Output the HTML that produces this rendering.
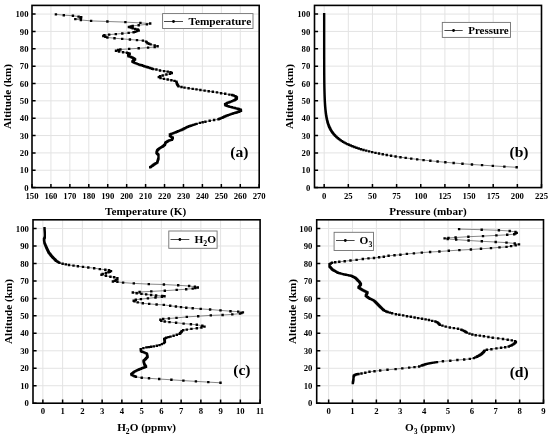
<!DOCTYPE html>
<html><head><meta charset="utf-8"><style>
html,body{margin:0;padding:0;background:#fff;}
svg{display:block;font-family:"Liberation Serif","Times New Roman",serif;}
</style></head><body>
<svg width="550" height="438" viewBox="0 0 550 438">
<rect width="550" height="438" fill="#fff"/>
<path d="M50.93 5.4V187.6M69.87 5.4V187.6M88.8 5.4V187.6M107.73 5.4V187.6M126.67 5.4V187.6M145.6 5.4V187.6M164.53 5.4V187.6M183.47 5.4V187.6M202.4 5.4V187.6M221.33 5.4V187.6M240.27 5.4V187.6M32 170.25H259.2M32 152.9H259.2M32 135.54H259.2M32 118.19H259.2M32 100.84H259.2M32 83.49H259.2M32 66.13H259.2M32 48.78H259.2M32 31.43H259.2M32 14.08H259.2" stroke="#e3e3e3" stroke-width="1" fill="none"/>
<path d="M324.16 5.4V187.6M348.31 5.4V187.6M372.46 5.4V187.6M396.61 5.4V187.6M420.76 5.4V187.6M444.9 5.4V187.6M469.05 5.4V187.6M493.2 5.4V187.6M517.35 5.4V187.6M314.5 170.25H541.5M314.5 152.9H541.5M314.5 135.54H541.5M314.5 118.19H541.5M314.5 100.84H541.5M314.5 83.49H541.5M314.5 66.13H541.5M314.5 48.78H541.5M314.5 31.43H541.5M314.5 14.08H541.5" stroke="#e3e3e3" stroke-width="1" fill="none"/>
<path d="M42.87 219.8V403.2M62.62 219.8V403.2M82.37 219.8V403.2M102.12 219.8V403.2M121.87 219.8V403.2M141.61 219.8V403.2M161.36 219.8V403.2M181.11 219.8V403.2M200.86 219.8V403.2M220.6 219.8V403.2M240.35 219.8V403.2M33 385.73H260.1M33 368.27H260.1M33 350.8H260.1M33 333.33H260.1M33 315.87H260.1M33 298.4H260.1M33 280.93H260.1M33 263.47H260.1M33 246H260.1M33 228.53H260.1" stroke="#e3e3e3" stroke-width="1" fill="none"/>
<path d="M328.64 219.8V403.2M352.51 219.8V403.2M376.38 219.8V403.2M400.26 219.8V403.2M424.13 219.8V403.2M448.01 219.8V403.2M471.88 219.8V403.2M495.75 219.8V403.2M519.63 219.8V403.2M316.7 385.73H543.5M316.7 368.27H543.5M316.7 350.8H543.5M316.7 333.33H543.5M316.7 315.87H543.5M316.7 298.4H543.5M316.7 280.93H543.5M316.7 263.47H543.5M316.7 246H543.5M316.7 228.53H543.5" stroke="#e3e3e3" stroke-width="1" fill="none"/>
<path d="M55.9 14.4 L63.8 15.2 L72.9 15.7 L78.6 16.6 L81.2 17.3 L80.9 17.85 L80.6 18.4 L75.3 19.1 L80.9 20 L91.1 20.9 L107.4 21.5 L125.4 22.1 L140.4 22.9 L150.2 23.5 L146.9 24.4 L138.7 25.2 L132.7 25.9 L130.8 26.45 L128.9 27 L130.8 27.65 L132.7 28.3 L135.15 28.9 L137.6 29.5 L138.15 30.05 L138.7 30.6 L137 31.17 L135.3 31.73 L133.6 32.3 L128.7 32.9 L122.3 33.5 L115.8 34.1 L109.2 34.6 L104.4 35.2 L103.3 36 L105.35 36.75 L107.4 37.5 L114.5 38.2 L122.2 38.9 L129.9 39.5 L137 40.1 L142.9 40.6 L146.1 41.6 L146.85 42.4 L147.6 43.2 L149.1 43.8 L150.6 44.4 L154.7 45.4 L157.6 46.2 L154.7 47 L148.1 47.6 L138.7 48.3 L129.2 48.9 L120.4 49.5 L118.2 50 L116 50.8 L119 51.5 L123.1 52.2 L126.9 52.8 L128.3 53.3 L129.7 53.8 L129.2 54.2 L128.7 54.6 L128.2 55 L128.33 55.4 L128.47 55.8 L128.6 56.2 L129.8 56.6 L131 57 L131.83 57.4 L132.67 57.8 L133.5 58.2 L134.03 58.6 L134.57 59 L135.1 59.4 L134.47 59.8 L133.83 60.2 L133.2 60.6 L132.8 61.1 L132.4 61.6 L133.25 62.1 L134.1 62.6 L135.4 63.1 L136.7 63.6 L137.95 64.1 L139.2 64.6 L140.5 64.95 L141.8 65.3 L143.05 65.75 L144.3 66.2 L145.55 66.6 L146.8 67 L147.8 67.3 L148.8 67.6 L150.05 68 L151.3 68.4 L152.25 68.75 L153.2 69.1 L156.4 69.5 L160 70.5 L164.1 71.1 L167.7 71.6 L170.5 72.3 L171.8 73 L170 73.8 L166.4 74.5 L162.7 75.5 L160 76.2 L158.8 77.1 L160.5 78 L163.9 78.9 L167.7 79.5 L171.4 80.2 L174.5 80.9 L176.4 81.8 L176.6 82.5 L176.8 83.2 L177.05 83.85 L177.3 84.5 L177.7 85.07 L178.1 85.63 L178.5 86.2 L181.5 87 L184.5 87.6 L188.6 88.3 L192.7 88.9 L196.5 89.4 L200.4 90 L204.6 90.6 L208.7 91.2 L212.8 91.8 L217 92.4 L221.1 93.2 L225.2 93.8 L229.4 94.6 L232.2 95 L233.6 95.55 L235 96.1 L235.63 96.57 L236.27 97.03 L236.9 97.5 L236.8 97.93 L236.7 98.37 L236.6 98.8 L235.87 99.27 L235.13 99.73 L234.4 100.2 L233.3 100.67 L232.2 101.13 L231.1 101.6 L229.83 102.03 L228.57 102.47 L227.3 102.9 L226.57 103.37 L225.83 103.83 L225.1 104.3 L225.3 104.67 L225.5 105.03 L225.7 105.4 L226.77 105.77 L227.83 106.13 L228.9 106.5 L230.37 106.87 L231.83 107.23 L233.3 107.6 L234.77 107.97 L236.23 108.33 L237.7 108.7 L238.7 109.07 L239.7 109.43 L240.7 109.8 L240.8 110.17 L240.9 110.53 L241 110.9 L239.9 111.3 L238.8 111.7 L237.7 112.07 L236.6 112.43 L235.5 112.8 L234.23 113.17 L232.97 113.53 L231.7 113.9 L230.43 114.37 L229.17 114.83 L227.9 115.3 L226.93 115.67 L225.97 116.03 L225 116.4 L224.27 116.77 L223.53 117.13 L222.8 117.5 L221.73 117.92 L220.65 118.35 L219.57 118.78 L218.5 119.2 L214.1 120 L209.7 120.8 L205.4 121.7 L202.65 122.3 L199.9 122.9 L196.6 123.9 L195 124.4 L193.4 124.9 L192.03 125.35 L190.65 125.8 L189.28 126.25 L187.9 126.7 L187 127.17 L186.1 127.63 L185.2 128.1 L184.3 128.57 L183.4 129.03 L182.5 129.5 L181.4 129.95 L180.3 130.4 L179.2 130.85 L178.1 131.3 L177 131.75 L175.9 132.2 L174.7 132.66 L173.5 133.12 L172.3 133.58 L171.1 134.04 L169.9 134.5 L169.9 134.97 L169.9 135.43 L169.9 135.9 L170.62 136.38 L171.35 136.85 L172.08 137.33 L172.8 137.8 L172.55 138.28 L172.3 138.75 L172.05 139.22 L171.8 139.7 L170.53 140.13 L169.27 140.57 L168 141 L167.38 141.43 L166.75 141.85 L166.12 142.27 L165.5 142.7 L165.36 143.12 L165.22 143.54 L165.08 143.96 L164.94 144.38 L164.8 144.8 L164.18 145.28 L163.55 145.75 L162.93 146.22 L162.3 146.7 L161.5 147.17 L160.7 147.65 L159.9 148.12 L159.1 148.6 L158.62 149.07 L158.15 149.55 L157.67 150.03 L157.2 150.5 L157.06 150.96 L156.92 151.42 L156.78 151.88 L156.64 152.34 L156.5 152.8 L156.9 153.24 L157.3 153.68 L157.7 154.12 L158.1 154.56 L158.5 155 L158.5 155.46 L158.5 155.91 L158.5 156.37 L158.5 156.83 L158.5 157.29 L158.5 157.74 L158.5 158.2 L158.36 158.69 L158.21 159.18 L158.07 159.67 L157.92 160.16 L157.78 160.64 L157.63 161.13 L157.49 161.62 L157.34 162.11 L157.2 162.6 L156.4 163.07 L155.6 163.55 L154.8 164.03 L154 164.5 L153.37 164.97 L152.73 165.43 L152.1 165.9 L151.47 166.37 L150.83 166.83 L150.2 167.3" fill="none" stroke="#555" stroke-width="0.7"/>
<path fill="#000" d="M54.7 13.2h2.4v2.4h-2.4zM62.6 14h2.4v2.4h-2.4zM71.7 14.5h2.4v2.4h-2.4zM77.4 15.4h2.4v2.4h-2.4zM80 16.1h2.4v2.4h-2.4zM79.7 16.65h2.4v2.4h-2.4zM79.4 17.2h2.4v2.4h-2.4zM74.1 17.9h2.4v2.4h-2.4zM79.7 18.8h2.4v2.4h-2.4zM89.9 19.7h2.4v2.4h-2.4zM106.2 20.3h2.4v2.4h-2.4zM124.2 20.9h2.4v2.4h-2.4zM139.2 21.7h2.4v2.4h-2.4zM149 22.3h2.4v2.4h-2.4zM145.7 23.2h2.4v2.4h-2.4zM137.5 24h2.4v2.4h-2.4zM131.5 24.7h2.4v2.4h-2.4zM129.6 25.25h2.4v2.4h-2.4zM127.7 25.8h2.4v2.4h-2.4zM129.6 26.45h2.4v2.4h-2.4zM131.5 27.1h2.4v2.4h-2.4zM133.95 27.7h2.4v2.4h-2.4zM136.4 28.3h2.4v2.4h-2.4zM136.95 28.85h2.4v2.4h-2.4zM137.5 29.4h2.4v2.4h-2.4zM135.8 29.97h2.4v2.4h-2.4zM134.1 30.53h2.4v2.4h-2.4zM132.4 31.1h2.4v2.4h-2.4zM127.5 31.7h2.4v2.4h-2.4zM121.1 32.3h2.4v2.4h-2.4zM114.6 32.9h2.4v2.4h-2.4zM108 33.4h2.4v2.4h-2.4zM103.2 34h2.4v2.4h-2.4zM102.1 34.8h2.4v2.4h-2.4zM104.15 35.55h2.4v2.4h-2.4zM106.2 36.3h2.4v2.4h-2.4zM113.3 37h2.4v2.4h-2.4zM121 37.7h2.4v2.4h-2.4zM128.7 38.3h2.4v2.4h-2.4zM135.8 38.9h2.4v2.4h-2.4zM141.7 39.4h2.4v2.4h-2.4zM144.9 40.4h2.4v2.4h-2.4zM145.65 41.2h2.4v2.4h-2.4zM146.4 42h2.4v2.4h-2.4zM147.9 42.6h2.4v2.4h-2.4zM149.4 43.2h2.4v2.4h-2.4zM153.5 44.2h2.4v2.4h-2.4zM156.4 45h2.4v2.4h-2.4zM153.5 45.8h2.4v2.4h-2.4zM146.9 46.4h2.4v2.4h-2.4zM137.5 47.1h2.4v2.4h-2.4zM128 47.7h2.4v2.4h-2.4zM119.2 48.3h2.4v2.4h-2.4zM117 48.8h2.4v2.4h-2.4zM114.8 49.6h2.4v2.4h-2.4zM117.8 50.3h2.4v2.4h-2.4zM121.9 51h2.4v2.4h-2.4zM125.7 51.6h2.4v2.4h-2.4zM127.1 52.1h2.4v2.4h-2.4zM128.5 52.6h2.4v2.4h-2.4zM128 53h2.4v2.4h-2.4zM127.5 53.4h2.4v2.4h-2.4zM127 53.8h2.4v2.4h-2.4zM127.13 54.2h2.4v2.4h-2.4zM127.27 54.6h2.4v2.4h-2.4zM127.4 55h2.4v2.4h-2.4zM128.6 55.4h2.4v2.4h-2.4zM129.8 55.8h2.4v2.4h-2.4zM130.63 56.2h2.4v2.4h-2.4zM131.47 56.6h2.4v2.4h-2.4zM132.3 57h2.4v2.4h-2.4zM132.83 57.4h2.4v2.4h-2.4zM133.37 57.8h2.4v2.4h-2.4zM133.9 58.2h2.4v2.4h-2.4zM133.27 58.6h2.4v2.4h-2.4zM132.63 59h2.4v2.4h-2.4zM132 59.4h2.4v2.4h-2.4zM131.6 59.9h2.4v2.4h-2.4zM131.2 60.4h2.4v2.4h-2.4zM132.05 60.9h2.4v2.4h-2.4zM132.9 61.4h2.4v2.4h-2.4zM134.2 61.9h2.4v2.4h-2.4zM135.5 62.4h2.4v2.4h-2.4zM136.75 62.9h2.4v2.4h-2.4zM138 63.4h2.4v2.4h-2.4zM139.3 63.75h2.4v2.4h-2.4zM140.6 64.1h2.4v2.4h-2.4zM141.85 64.55h2.4v2.4h-2.4zM143.1 65h2.4v2.4h-2.4zM144.35 65.4h2.4v2.4h-2.4zM145.6 65.8h2.4v2.4h-2.4zM146.6 66.1h2.4v2.4h-2.4zM147.6 66.4h2.4v2.4h-2.4zM148.85 66.8h2.4v2.4h-2.4zM150.1 67.2h2.4v2.4h-2.4zM151.05 67.55h2.4v2.4h-2.4zM152 67.9h2.4v2.4h-2.4zM155.2 68.3h2.4v2.4h-2.4zM158.8 69.3h2.4v2.4h-2.4zM162.9 69.9h2.4v2.4h-2.4zM166.5 70.4h2.4v2.4h-2.4zM169.3 71.1h2.4v2.4h-2.4zM170.6 71.8h2.4v2.4h-2.4zM168.8 72.6h2.4v2.4h-2.4zM165.2 73.3h2.4v2.4h-2.4zM161.5 74.3h2.4v2.4h-2.4zM158.8 75h2.4v2.4h-2.4zM157.6 75.9h2.4v2.4h-2.4zM159.3 76.8h2.4v2.4h-2.4zM162.7 77.7h2.4v2.4h-2.4zM166.5 78.3h2.4v2.4h-2.4zM170.2 79h2.4v2.4h-2.4zM173.3 79.7h2.4v2.4h-2.4zM175.2 80.6h2.4v2.4h-2.4zM175.4 81.3h2.4v2.4h-2.4zM175.6 82h2.4v2.4h-2.4zM175.85 82.65h2.4v2.4h-2.4zM176.1 83.3h2.4v2.4h-2.4zM176.5 83.87h2.4v2.4h-2.4zM176.9 84.43h2.4v2.4h-2.4zM177.3 85h2.4v2.4h-2.4zM180.3 85.8h2.4v2.4h-2.4zM183.3 86.4h2.4v2.4h-2.4zM187.4 87.1h2.4v2.4h-2.4zM191.5 87.7h2.4v2.4h-2.4zM195.3 88.2h2.4v2.4h-2.4zM199.2 88.8h2.4v2.4h-2.4zM203.4 89.4h2.4v2.4h-2.4zM207.5 90h2.4v2.4h-2.4zM211.6 90.6h2.4v2.4h-2.4zM215.8 91.2h2.4v2.4h-2.4zM219.9 92h2.4v2.4h-2.4zM224 92.6h2.4v2.4h-2.4zM228.2 93.4h2.4v2.4h-2.4zM231 93.8h2.4v2.4h-2.4zM232.4 94.35h2.4v2.4h-2.4zM233.8 94.9h2.4v2.4h-2.4zM234.43 95.37h2.4v2.4h-2.4zM235.07 95.83h2.4v2.4h-2.4zM235.7 96.3h2.4v2.4h-2.4zM235.6 96.73h2.4v2.4h-2.4zM235.5 97.17h2.4v2.4h-2.4zM235.4 97.6h2.4v2.4h-2.4zM234.67 98.07h2.4v2.4h-2.4zM233.93 98.53h2.4v2.4h-2.4zM233.2 99h2.4v2.4h-2.4zM232.1 99.47h2.4v2.4h-2.4zM231 99.93h2.4v2.4h-2.4zM229.9 100.4h2.4v2.4h-2.4zM228.63 100.83h2.4v2.4h-2.4zM227.37 101.27h2.4v2.4h-2.4zM226.1 101.7h2.4v2.4h-2.4zM225.37 102.17h2.4v2.4h-2.4zM224.63 102.63h2.4v2.4h-2.4zM223.9 103.1h2.4v2.4h-2.4zM224.1 103.47h2.4v2.4h-2.4zM224.3 103.83h2.4v2.4h-2.4zM224.5 104.2h2.4v2.4h-2.4zM225.57 104.57h2.4v2.4h-2.4zM226.63 104.93h2.4v2.4h-2.4zM227.7 105.3h2.4v2.4h-2.4zM229.17 105.67h2.4v2.4h-2.4zM230.63 106.03h2.4v2.4h-2.4zM232.1 106.4h2.4v2.4h-2.4zM233.57 106.77h2.4v2.4h-2.4zM235.03 107.13h2.4v2.4h-2.4zM236.5 107.5h2.4v2.4h-2.4zM237.5 107.87h2.4v2.4h-2.4zM238.5 108.23h2.4v2.4h-2.4zM239.5 108.6h2.4v2.4h-2.4zM239.6 108.97h2.4v2.4h-2.4zM239.7 109.33h2.4v2.4h-2.4zM239.8 109.7h2.4v2.4h-2.4zM238.7 110.1h2.4v2.4h-2.4zM237.6 110.5h2.4v2.4h-2.4zM236.5 110.87h2.4v2.4h-2.4zM235.4 111.23h2.4v2.4h-2.4zM234.3 111.6h2.4v2.4h-2.4zM233.03 111.97h2.4v2.4h-2.4zM231.77 112.33h2.4v2.4h-2.4zM230.5 112.7h2.4v2.4h-2.4zM229.23 113.17h2.4v2.4h-2.4zM227.97 113.63h2.4v2.4h-2.4zM226.7 114.1h2.4v2.4h-2.4zM225.73 114.47h2.4v2.4h-2.4zM224.77 114.83h2.4v2.4h-2.4zM223.8 115.2h2.4v2.4h-2.4zM223.07 115.57h2.4v2.4h-2.4zM222.33 115.93h2.4v2.4h-2.4zM221.6 116.3h2.4v2.4h-2.4zM220.53 116.72h2.4v2.4h-2.4zM219.45 117.15h2.4v2.4h-2.4zM218.38 117.58h2.4v2.4h-2.4zM217.3 118h2.4v2.4h-2.4zM212.9 118.8h2.4v2.4h-2.4zM208.5 119.6h2.4v2.4h-2.4zM204.2 120.5h2.4v2.4h-2.4zM201.45 121.1h2.4v2.4h-2.4zM198.7 121.7h2.4v2.4h-2.4zM195.4 122.7h2.4v2.4h-2.4zM193.8 123.2h2.4v2.4h-2.4zM192.2 123.7h2.4v2.4h-2.4zM190.83 124.15h2.4v2.4h-2.4zM189.45 124.6h2.4v2.4h-2.4zM188.08 125.05h2.4v2.4h-2.4zM186.7 125.5h2.4v2.4h-2.4zM185.8 125.97h2.4v2.4h-2.4zM184.9 126.43h2.4v2.4h-2.4zM184 126.9h2.4v2.4h-2.4zM183.1 127.37h2.4v2.4h-2.4zM182.2 127.83h2.4v2.4h-2.4zM181.3 128.3h2.4v2.4h-2.4zM180.2 128.75h2.4v2.4h-2.4zM179.1 129.2h2.4v2.4h-2.4zM178 129.65h2.4v2.4h-2.4zM176.9 130.1h2.4v2.4h-2.4zM175.8 130.55h2.4v2.4h-2.4zM174.7 131h2.4v2.4h-2.4zM173.5 131.46h2.4v2.4h-2.4zM172.3 131.92h2.4v2.4h-2.4zM171.1 132.38h2.4v2.4h-2.4zM169.9 132.84h2.4v2.4h-2.4zM168.7 133.3h2.4v2.4h-2.4zM168.7 133.77h2.4v2.4h-2.4zM168.7 134.23h2.4v2.4h-2.4zM168.7 134.7h2.4v2.4h-2.4zM169.43 135.18h2.4v2.4h-2.4zM170.15 135.65h2.4v2.4h-2.4zM170.88 136.13h2.4v2.4h-2.4zM171.6 136.6h2.4v2.4h-2.4zM171.35 137.08h2.4v2.4h-2.4zM171.1 137.55h2.4v2.4h-2.4zM170.85 138.03h2.4v2.4h-2.4zM170.6 138.5h2.4v2.4h-2.4zM169.33 138.93h2.4v2.4h-2.4zM168.07 139.37h2.4v2.4h-2.4zM166.8 139.8h2.4v2.4h-2.4zM166.18 140.23h2.4v2.4h-2.4zM165.55 140.65h2.4v2.4h-2.4zM164.93 141.07h2.4v2.4h-2.4zM164.3 141.5h2.4v2.4h-2.4zM164.16 141.92h2.4v2.4h-2.4zM164.02 142.34h2.4v2.4h-2.4zM163.88 142.76h2.4v2.4h-2.4zM163.74 143.18h2.4v2.4h-2.4zM163.6 143.6h2.4v2.4h-2.4zM162.98 144.08h2.4v2.4h-2.4zM162.35 144.55h2.4v2.4h-2.4zM161.73 145.03h2.4v2.4h-2.4zM161.1 145.5h2.4v2.4h-2.4zM160.3 145.97h2.4v2.4h-2.4zM159.5 146.45h2.4v2.4h-2.4zM158.7 146.93h2.4v2.4h-2.4zM157.9 147.4h2.4v2.4h-2.4zM157.43 147.88h2.4v2.4h-2.4zM156.95 148.35h2.4v2.4h-2.4zM156.47 148.83h2.4v2.4h-2.4zM156 149.3h2.4v2.4h-2.4zM155.86 149.76h2.4v2.4h-2.4zM155.72 150.22h2.4v2.4h-2.4zM155.58 150.68h2.4v2.4h-2.4zM155.44 151.14h2.4v2.4h-2.4zM155.3 151.6h2.4v2.4h-2.4zM155.7 152.04h2.4v2.4h-2.4zM156.1 152.48h2.4v2.4h-2.4zM156.5 152.92h2.4v2.4h-2.4zM156.9 153.36h2.4v2.4h-2.4zM157.3 153.8h2.4v2.4h-2.4zM157.3 154.26h2.4v2.4h-2.4zM157.3 154.71h2.4v2.4h-2.4zM157.3 155.17h2.4v2.4h-2.4zM157.3 155.63h2.4v2.4h-2.4zM157.3 156.09h2.4v2.4h-2.4zM157.3 156.54h2.4v2.4h-2.4zM157.3 157h2.4v2.4h-2.4zM157.16 157.49h2.4v2.4h-2.4zM157.01 157.98h2.4v2.4h-2.4zM156.87 158.47h2.4v2.4h-2.4zM156.72 158.96h2.4v2.4h-2.4zM156.58 159.44h2.4v2.4h-2.4zM156.43 159.93h2.4v2.4h-2.4zM156.29 160.42h2.4v2.4h-2.4zM156.14 160.91h2.4v2.4h-2.4zM156 161.4h2.4v2.4h-2.4zM155.2 161.88h2.4v2.4h-2.4zM154.4 162.35h2.4v2.4h-2.4zM153.6 162.83h2.4v2.4h-2.4zM152.8 163.3h2.4v2.4h-2.4zM152.17 163.77h2.4v2.4h-2.4zM151.53 164.23h2.4v2.4h-2.4zM150.9 164.7h2.4v2.4h-2.4zM150.27 165.17h2.4v2.4h-2.4zM149.63 165.63h2.4v2.4h-2.4zM149 166.1h2.4v2.4h-2.4z"/>
<path d="M516.67 167.3 L504.36 166.59 L492.83 165.87 L482.05 165.16 L471.95 164.44 L462.49 163.72 L453.65 163 L445.36 162.27 L437.61 161.55 L430.35 160.82 L423.56 160.1 L417.2 159.37 L411.25 158.65 L405.68 157.92 L400.47 157.19 L395.59 156.46 L391.02 155.74 L386.74 155.01 L382.74 154.28 L378.99 153.56 L375.48 152.83 L372.2 152.11 L369.13 151.39 L366.25 150.66 L363.56 149.94 L361.04 149.21 L358.68 148.48 L356.47 147.76 L354.41 147.02 L352.47 146.29 L350.66 145.56 L348.97 144.82 L347.38 144.08 L345.89 143.34 L344.5 142.6 L343.2 141.86 L341.98 141.12 L340.84 140.38 L339.78 139.63 L338.78 138.88 L337.84 138.13 L336.97 137.38 L336.15 136.63 L335.38 135.88 L334.66 135.13 L333.99 134.38 L333.36 133.63 L332.77 132.88 L332.22 132.13 L331.71 131.37 L331.22 130.61 L330.77 129.84 L330.35 129.07 L329.95 128.3 L329.58 127.53 L329.24 126.75 L328.91 125.97 L328.61 125.19 L328.32 124.4 L328.06 123.61 L327.81 122.81 L327.57 122.01 L327.36 121.2 L327.15 120.39 L326.96 119.57 L326.78 118.74 L326.61 117.9 L326.46 117.06 L326.31 116.22 L326.17 115.37 L326.04 114.52 L325.92 113.67 L325.81 112.81 L325.7 111.94 L325.61 111.08 L325.51 110.2 L325.43 109.33 L325.35 108.46 L325.27 107.6 L325.2 106.74 L325.13 105.88 L325.07 105.04 L325.01 104.19 L324.96 103.35 L324.91 102.5 L324.86 101.65 L324.81 100.79 L324.77 99.93 L324.73 99.07 L324.7 98.2 L324.66 97.34 L324.63 96.47 L324.6 95.61 L324.57 94.75 L324.55 93.9 L324.52 93.05 L324.5 92.22 L324.48 91.39 L324.46 90.57 L324.44 89.77 L324.42 88.97 L324.4 88.18 L324.39 87.41 L324.37 86.64 L324.36 85.87 L324.35 85.11 L324.33 84.35 L324.32 83.59 L324.31 82.83 L324.3 82.07 L324.29 81.31 L324.28 80.55 L324.28 79.8 L324.27 79.06 L324.26 78.32 L324.26 77.59 L324.25 76.86 L324.24 76.13 L324.24 75.4 L324.23 74.66 L324.23 73.92 L324.22 73.18 L324.22 72.43 L324.22 71.68 L324.21 70.94 L324.21 70.2 L324.21 69.48 L324.2 68.76 L324.2 68.04 L324.2 67.33 L324.2 66.62 L324.19 65.92 L324.19 65.22 L324.19 64.52 L324.19 63.83 L324.19 63.14 L324.18 62.46 L324.18 61.78 L324.18 61.09 L324.18 60.41 L324.18 59.73 L324.18 59.04 L324.18 58.36 L324.17 57.68 L324.17 57 L324.17 56.32 L324.17 55.65 L324.17 54.97 L324.17 54.3 L324.17 53.62 L324.17 52.95 L324.17 52.28 L324.17 51.62 L324.17 50.96 L324.17 50.31 L324.17 49.65 L324.17 48.99 L324.17 48.31 L324.17 47.61 L324.16 46.9 L324.16 46.18 L324.16 45.46 L324.16 44.74 L324.16 44.02 L324.16 43.31 L324.16 42.61 L324.16 41.9 L324.16 41.19 L324.16 40.49 L324.16 39.8 L324.16 39.12 L324.16 38.46 L324.16 37.81 L324.16 37.17 L324.16 36.54 L324.16 35.91 L324.16 35.28 L324.16 34.64 L324.16 34 L324.16 33.34 L324.16 32.67 L324.16 31.99 L324.16 31.3 L324.16 30.61 L324.16 29.92 L324.16 29.23 L324.16 28.55 L324.16 27.87 L324.16 27.19 L324.16 26.51 L324.16 25.83 L324.16 25.15 L324.16 24.45 L324.16 23.74 L324.16 23.03 L324.16 22.34 L324.16 21.67 L324.16 21.04 L324.16 20.44 L324.16 19.84 L324.16 19.26 L324.16 18.68 L324.16 18.09 L324.16 17.5 L324.16 16.91 L324.16 16.32 L324.16 15.74 L324.16 15.18 L324.16 14.62 L324.16 14.08" fill="none" stroke="#555" stroke-width="0.7"/>
<path fill="#000" d="M515.47 166.1h2.4v2.4h-2.4zM503.16 165.39h2.4v2.4h-2.4zM491.63 164.67h2.4v2.4h-2.4zM480.85 163.96h2.4v2.4h-2.4zM470.75 163.24h2.4v2.4h-2.4zM461.29 162.52h2.4v2.4h-2.4zM452.45 161.8h2.4v2.4h-2.4zM444.16 161.07h2.4v2.4h-2.4zM436.41 160.35h2.4v2.4h-2.4zM429.15 159.62h2.4v2.4h-2.4zM422.36 158.9h2.4v2.4h-2.4zM416 158.17h2.4v2.4h-2.4zM410.05 157.45h2.4v2.4h-2.4zM404.48 156.72h2.4v2.4h-2.4zM399.27 155.99h2.4v2.4h-2.4zM394.39 155.26h2.4v2.4h-2.4zM389.82 154.54h2.4v2.4h-2.4zM385.54 153.81h2.4v2.4h-2.4zM381.54 153.08h2.4v2.4h-2.4zM377.79 152.36h2.4v2.4h-2.4zM374.28 151.63h2.4v2.4h-2.4zM371 150.91h2.4v2.4h-2.4zM367.93 150.19h2.4v2.4h-2.4zM365.05 149.46h2.4v2.4h-2.4zM362.36 148.74h2.4v2.4h-2.4zM359.84 148.01h2.4v2.4h-2.4zM357.48 147.28h2.4v2.4h-2.4zM355.27 146.56h2.4v2.4h-2.4zM353.21 145.82h2.4v2.4h-2.4zM351.27 145.09h2.4v2.4h-2.4zM349.46 144.36h2.4v2.4h-2.4zM347.77 143.62h2.4v2.4h-2.4zM346.18 142.88h2.4v2.4h-2.4zM344.69 142.14h2.4v2.4h-2.4zM343.3 141.4h2.4v2.4h-2.4zM342 140.66h2.4v2.4h-2.4zM340.78 139.92h2.4v2.4h-2.4zM339.64 139.18h2.4v2.4h-2.4zM338.58 138.43h2.4v2.4h-2.4zM337.58 137.68h2.4v2.4h-2.4zM336.64 136.93h2.4v2.4h-2.4zM335.77 136.18h2.4v2.4h-2.4zM334.95 135.43h2.4v2.4h-2.4zM334.18 134.68h2.4v2.4h-2.4zM333.46 133.93h2.4v2.4h-2.4zM332.79 133.18h2.4v2.4h-2.4zM332.16 132.43h2.4v2.4h-2.4zM331.57 131.68h2.4v2.4h-2.4zM331.02 130.93h2.4v2.4h-2.4zM330.51 130.17h2.4v2.4h-2.4zM330.02 129.41h2.4v2.4h-2.4zM329.57 128.64h2.4v2.4h-2.4zM329.15 127.87h2.4v2.4h-2.4zM328.75 127.1h2.4v2.4h-2.4zM328.38 126.33h2.4v2.4h-2.4zM328.04 125.55h2.4v2.4h-2.4zM327.71 124.77h2.4v2.4h-2.4zM327.41 123.99h2.4v2.4h-2.4zM327.12 123.2h2.4v2.4h-2.4zM326.86 122.41h2.4v2.4h-2.4zM326.61 121.61h2.4v2.4h-2.4zM326.37 120.81h2.4v2.4h-2.4zM326.16 120h2.4v2.4h-2.4zM325.95 119.19h2.4v2.4h-2.4zM325.76 118.37h2.4v2.4h-2.4zM325.58 117.54h2.4v2.4h-2.4zM325.41 116.7h2.4v2.4h-2.4zM325.26 115.86h2.4v2.4h-2.4zM325.11 115.02h2.4v2.4h-2.4zM324.97 114.17h2.4v2.4h-2.4zM324.84 113.32h2.4v2.4h-2.4zM324.72 112.47h2.4v2.4h-2.4zM324.61 111.61h2.4v2.4h-2.4zM324.5 110.74h2.4v2.4h-2.4zM324.41 109.88h2.4v2.4h-2.4zM324.31 109h2.4v2.4h-2.4zM324.23 108.13h2.4v2.4h-2.4zM324.15 107.26h2.4v2.4h-2.4zM324.07 106.4h2.4v2.4h-2.4zM324 105.54h2.4v2.4h-2.4zM323.93 104.68h2.4v2.4h-2.4zM323.87 103.84h2.4v2.4h-2.4zM323.81 102.99h2.4v2.4h-2.4zM323.76 102.15h2.4v2.4h-2.4zM323.71 101.3h2.4v2.4h-2.4zM323.66 100.45h2.4v2.4h-2.4zM323.61 99.59h2.4v2.4h-2.4zM323.57 98.73h2.4v2.4h-2.4zM323.53 97.87h2.4v2.4h-2.4zM323.5 97h2.4v2.4h-2.4zM323.46 96.14h2.4v2.4h-2.4zM323.43 95.27h2.4v2.4h-2.4zM323.4 94.41h2.4v2.4h-2.4zM323.37 93.55h2.4v2.4h-2.4zM323.35 92.7h2.4v2.4h-2.4zM323.32 91.85h2.4v2.4h-2.4zM323.3 91.02h2.4v2.4h-2.4zM323.28 90.19h2.4v2.4h-2.4zM323.26 89.37h2.4v2.4h-2.4zM323.24 88.57h2.4v2.4h-2.4zM323.22 87.77h2.4v2.4h-2.4zM323.2 86.98h2.4v2.4h-2.4zM323.19 86.21h2.4v2.4h-2.4zM323.17 85.44h2.4v2.4h-2.4zM323.16 84.67h2.4v2.4h-2.4zM323.15 83.91h2.4v2.4h-2.4zM323.13 83.15h2.4v2.4h-2.4zM323.12 82.39h2.4v2.4h-2.4zM323.11 81.63h2.4v2.4h-2.4zM323.1 80.87h2.4v2.4h-2.4zM323.09 80.11h2.4v2.4h-2.4zM323.08 79.35h2.4v2.4h-2.4zM323.08 78.6h2.4v2.4h-2.4zM323.07 77.86h2.4v2.4h-2.4zM323.06 77.12h2.4v2.4h-2.4zM323.06 76.39h2.4v2.4h-2.4zM323.05 75.66h2.4v2.4h-2.4zM323.04 74.93h2.4v2.4h-2.4zM323.04 74.2h2.4v2.4h-2.4zM323.03 73.46h2.4v2.4h-2.4zM323.03 72.72h2.4v2.4h-2.4zM323.02 71.98h2.4v2.4h-2.4zM323.02 71.23h2.4v2.4h-2.4zM323.02 70.48h2.4v2.4h-2.4zM323.01 69.74h2.4v2.4h-2.4zM323.01 69h2.4v2.4h-2.4zM323.01 68.28h2.4v2.4h-2.4zM323 67.56h2.4v2.4h-2.4zM323 66.84h2.4v2.4h-2.4zM323 66.13h2.4v2.4h-2.4zM323 65.42h2.4v2.4h-2.4zM322.99 64.72h2.4v2.4h-2.4zM322.99 64.02h2.4v2.4h-2.4zM322.99 63.32h2.4v2.4h-2.4zM322.99 62.63h2.4v2.4h-2.4zM322.99 61.94h2.4v2.4h-2.4zM322.98 61.26h2.4v2.4h-2.4zM322.98 60.58h2.4v2.4h-2.4zM322.98 59.89h2.4v2.4h-2.4zM322.98 59.21h2.4v2.4h-2.4zM322.98 58.53h2.4v2.4h-2.4zM322.98 57.84h2.4v2.4h-2.4zM322.98 57.16h2.4v2.4h-2.4zM322.97 56.48h2.4v2.4h-2.4zM322.97 55.8h2.4v2.4h-2.4zM322.97 55.12h2.4v2.4h-2.4zM322.97 54.45h2.4v2.4h-2.4zM322.97 53.77h2.4v2.4h-2.4zM322.97 53.1h2.4v2.4h-2.4zM322.97 52.42h2.4v2.4h-2.4zM322.97 51.75h2.4v2.4h-2.4zM322.97 51.08h2.4v2.4h-2.4zM322.97 50.42h2.4v2.4h-2.4zM322.97 49.76h2.4v2.4h-2.4zM322.97 49.11h2.4v2.4h-2.4zM322.97 48.45h2.4v2.4h-2.4zM322.97 47.79h2.4v2.4h-2.4zM322.97 47.11h2.4v2.4h-2.4zM322.97 46.41h2.4v2.4h-2.4zM322.96 45.7h2.4v2.4h-2.4zM322.96 44.98h2.4v2.4h-2.4zM322.96 44.26h2.4v2.4h-2.4zM322.96 43.54h2.4v2.4h-2.4zM322.96 42.82h2.4v2.4h-2.4zM322.96 42.11h2.4v2.4h-2.4zM322.96 41.41h2.4v2.4h-2.4zM322.96 40.7h2.4v2.4h-2.4zM322.96 39.99h2.4v2.4h-2.4zM322.96 39.29h2.4v2.4h-2.4zM322.96 38.6h2.4v2.4h-2.4zM322.96 37.92h2.4v2.4h-2.4zM322.96 37.26h2.4v2.4h-2.4zM322.96 36.61h2.4v2.4h-2.4zM322.96 35.97h2.4v2.4h-2.4zM322.96 35.34h2.4v2.4h-2.4zM322.96 34.71h2.4v2.4h-2.4zM322.96 34.08h2.4v2.4h-2.4zM322.96 33.44h2.4v2.4h-2.4zM322.96 32.8h2.4v2.4h-2.4zM322.96 32.14h2.4v2.4h-2.4zM322.96 31.47h2.4v2.4h-2.4zM322.96 30.79h2.4v2.4h-2.4zM322.96 30.1h2.4v2.4h-2.4zM322.96 29.41h2.4v2.4h-2.4zM322.96 28.72h2.4v2.4h-2.4zM322.96 28.03h2.4v2.4h-2.4zM322.96 27.35h2.4v2.4h-2.4zM322.96 26.67h2.4v2.4h-2.4zM322.96 25.99h2.4v2.4h-2.4zM322.96 25.31h2.4v2.4h-2.4zM322.96 24.63h2.4v2.4h-2.4zM322.96 23.95h2.4v2.4h-2.4zM322.96 23.25h2.4v2.4h-2.4zM322.96 22.54h2.4v2.4h-2.4zM322.96 21.83h2.4v2.4h-2.4zM322.96 21.14h2.4v2.4h-2.4zM322.96 20.47h2.4v2.4h-2.4zM322.96 19.84h2.4v2.4h-2.4zM322.96 19.24h2.4v2.4h-2.4zM322.96 18.64h2.4v2.4h-2.4zM322.96 18.06h2.4v2.4h-2.4zM322.96 17.48h2.4v2.4h-2.4zM322.96 16.89h2.4v2.4h-2.4zM322.96 16.3h2.4v2.4h-2.4zM322.96 15.71h2.4v2.4h-2.4zM322.96 15.12h2.4v2.4h-2.4zM322.96 14.54h2.4v2.4h-2.4zM322.96 13.98h2.4v2.4h-2.4zM322.96 13.42h2.4v2.4h-2.4zM322.96 12.88h2.4v2.4h-2.4z"/>
<path d="M44.5 228.2 L44.53 228.69 L44.56 229.18 L44.59 229.67 L44.62 230.16 L44.65 230.65 L44.68 231.14 L44.71 231.63 L44.74 232.12 L44.77 232.61 L44.8 233.1 L44.8 233.56 L44.8 234.01 L44.8 234.47 L44.8 234.92 L44.8 235.38 L44.8 235.83 L44.8 236.29 L44.8 236.74 L44.8 237.2 L44.64 237.62 L44.48 238.04 L44.32 238.46 L44.16 238.88 L44 239.3 L44.06 239.75 L44.12 240.2 L44.19 240.65 L44.25 241.1 L44.31 241.55 L44.38 242 L44.44 242.45 L44.5 242.9 L44.7 243.39 L44.9 243.88 L45.1 244.37 L45.3 244.86 L45.5 245.35 L45.7 245.84 L45.9 246.33 L46.1 246.82 L46.3 247.31 L46.5 247.8 L46.74 248.29 L46.98 248.78 L47.22 249.27 L47.46 249.76 L47.7 250.25 L47.94 250.74 L48.18 251.23 L48.42 251.72 L48.66 252.21 L48.9 252.7 L49.27 253.16 L49.63 253.61 L50 254.07 L50.37 254.52 L50.73 254.98 L51.1 255.43 L51.47 255.89 L51.83 256.34 L52.2 256.8 L52.66 257.26 L53.11 257.71 L53.57 258.17 L54.02 258.62 L54.48 259.08 L54.93 259.53 L55.39 259.99 L55.84 260.44 L56.3 260.9 L57.1 261.4 L57.9 261.9 L58.7 262.4 L59.5 262.9 L62.6 263.7 L65.8 264.4 L69 265 L73.5 265.6 L77.9 266.3 L83 266.9 L88.3 267.5 L94.2 268.2 L99.8 269.1 L105.3 269.7 L109.1 270.3 L111 271.1 L109.75 271.7 L108.5 272.3 L105.9 273 L102.7 273.9 L101.5 274.8 L105.9 275.8 L110.4 276.7 L114.2 277.3 L117.4 278.1 L117.4 278.75 L117.4 279.4 L116.1 280.05 L114.8 280.7 L112.9 281.5 L117.4 281.9 L123.1 282.6 L133.8 283.4 L148.8 284.1 L163.9 284.5 L178.2 285.3 L189.1 286 L194.9 286.7 L197.8 287.5 L195.25 288.05 L192.7 288.6 L186.2 289.2 L176.7 289.9 L164.8 290.7 L151.3 291.4 L139.6 292 L132.8 292.5 L136.7 293.3 L141.45 293.85 L146.2 294.4 L151.15 294.95 L156.1 295.5 L162.2 295.9 L164.5 296.3 L161.9 296.9 L155.5 297.5 L147.9 298.4 L140.9 299.1 L135.8 299.8 L133.7 300.7 L134.5 301.4 L137.7 302.4 L142.8 303.3 L149.2 303.9 L156.6 304.5 L163.8 304.9 L170.2 305.8 L175.9 306.5 L181 307.1 L186.3 307.7 L192.7 308.2 L200.7 308.9 L210.1 309.5 L220.5 310.4 L230.5 311.2 L238.2 311.6 L242.9 312.4 L241.45 313 L240 313.6 L232.3 314.4 L222.6 315 L210.8 315.4 L198.2 316.2 L186.8 316.9 L176.5 317.9 L168.9 318.5 L163.2 318.9 L160.4 319.8 L161.3 320.7 L164.7 321.5 L169.5 322.1 L176.1 322.7 L183.6 323.6 L190.9 324.2 L196.8 324.8 L202.3 325.7 L204.5 326.6 L201.4 327.5 L196.8 328.3 L191.4 328.9 L186.8 329.6 L183.2 330.3 L181.8 331.2 L181.35 331.85 L180.9 332.5 L180.2 333.2 L179.5 333.9 L176.8 334.8 L173.6 335.7 L170.5 336.6 L168.5 337.1 L166.3 337.7 L165.25 338.35 L164.2 339 L164.4 339.7 L164.6 340.4 L164.75 341.05 L164.9 341.7 L164.4 342.4 L163.9 343.1 L161.9 344.1 L159.5 345.1 L156.8 345.8 L153.8 346.4 L151.1 346.8 L148.8 347.1 L146.4 347.4 L143.4 348.1 L140.7 349.1 L140.78 349.52 L140.86 349.94 L140.94 350.36 L141.02 350.78 L141.1 351.2 L142.24 351.68 L143.38 352.16 L144.52 352.64 L145.66 353.12 L146.8 353.6 L146.91 354.07 L147.03 354.54 L147.14 355.01 L147.26 355.49 L147.37 355.96 L147.49 356.43 L147.6 356.9 L147.14 357.36 L146.69 357.81 L146.23 358.27 L145.78 358.72 L145.32 359.18 L144.87 359.63 L144.41 360.09 L143.96 360.54 L143.5 361 L143.63 361.47 L143.76 361.94 L143.89 362.41 L144.01 362.89 L144.14 363.36 L144.27 363.83 L144.4 364.3 L144.72 364.78 L145.04 365.26 L145.36 365.74 L145.68 366.22 L146 366.7 L144.7 367.2 L143.4 367.7 L142.1 368.2 L140.8 368.7 L139.5 369.2 L138.5 369.68 L137.5 370.16 L136.5 370.64 L135.5 371.12 L134.5 371.6 L133.86 372.1 L133.22 372.6 L132.58 373.1 L131.94 373.6 L131.3 374.1 L131.6 374.55 L131.9 375 L133.23 375.6 L134.57 376.2 L135.9 376.8 L141.7 377.7 L149 378.3 L159.2 379 L171.4 379.8 L183.4 380.6 L195.9 381.4 L208.3 382.1 L220.5 382.8" fill="none" stroke="#555" stroke-width="0.7"/>
<path fill="#000" d="M43.3 227h2.4v2.4h-2.4zM43.33 227.49h2.4v2.4h-2.4zM43.36 227.98h2.4v2.4h-2.4zM43.39 228.47h2.4v2.4h-2.4zM43.42 228.96h2.4v2.4h-2.4zM43.45 229.45h2.4v2.4h-2.4zM43.48 229.94h2.4v2.4h-2.4zM43.51 230.43h2.4v2.4h-2.4zM43.54 230.92h2.4v2.4h-2.4zM43.57 231.41h2.4v2.4h-2.4zM43.6 231.9h2.4v2.4h-2.4zM43.6 232.36h2.4v2.4h-2.4zM43.6 232.81h2.4v2.4h-2.4zM43.6 233.27h2.4v2.4h-2.4zM43.6 233.72h2.4v2.4h-2.4zM43.6 234.18h2.4v2.4h-2.4zM43.6 234.63h2.4v2.4h-2.4zM43.6 235.09h2.4v2.4h-2.4zM43.6 235.54h2.4v2.4h-2.4zM43.6 236h2.4v2.4h-2.4zM43.44 236.42h2.4v2.4h-2.4zM43.28 236.84h2.4v2.4h-2.4zM43.12 237.26h2.4v2.4h-2.4zM42.96 237.68h2.4v2.4h-2.4zM42.8 238.1h2.4v2.4h-2.4zM42.86 238.55h2.4v2.4h-2.4zM42.92 239h2.4v2.4h-2.4zM42.99 239.45h2.4v2.4h-2.4zM43.05 239.9h2.4v2.4h-2.4zM43.11 240.35h2.4v2.4h-2.4zM43.17 240.8h2.4v2.4h-2.4zM43.24 241.25h2.4v2.4h-2.4zM43.3 241.7h2.4v2.4h-2.4zM43.5 242.19h2.4v2.4h-2.4zM43.7 242.68h2.4v2.4h-2.4zM43.9 243.17h2.4v2.4h-2.4zM44.1 243.66h2.4v2.4h-2.4zM44.3 244.15h2.4v2.4h-2.4zM44.5 244.64h2.4v2.4h-2.4zM44.7 245.13h2.4v2.4h-2.4zM44.9 245.62h2.4v2.4h-2.4zM45.1 246.11h2.4v2.4h-2.4zM45.3 246.6h2.4v2.4h-2.4zM45.54 247.09h2.4v2.4h-2.4zM45.78 247.58h2.4v2.4h-2.4zM46.02 248.07h2.4v2.4h-2.4zM46.26 248.56h2.4v2.4h-2.4zM46.5 249.05h2.4v2.4h-2.4zM46.74 249.54h2.4v2.4h-2.4zM46.98 250.03h2.4v2.4h-2.4zM47.22 250.52h2.4v2.4h-2.4zM47.46 251.01h2.4v2.4h-2.4zM47.7 251.5h2.4v2.4h-2.4zM48.07 251.96h2.4v2.4h-2.4zM48.43 252.41h2.4v2.4h-2.4zM48.8 252.87h2.4v2.4h-2.4zM49.17 253.32h2.4v2.4h-2.4zM49.53 253.78h2.4v2.4h-2.4zM49.9 254.23h2.4v2.4h-2.4zM50.27 254.69h2.4v2.4h-2.4zM50.63 255.14h2.4v2.4h-2.4zM51 255.6h2.4v2.4h-2.4zM51.46 256.06h2.4v2.4h-2.4zM51.91 256.51h2.4v2.4h-2.4zM52.37 256.97h2.4v2.4h-2.4zM52.82 257.42h2.4v2.4h-2.4zM53.28 257.88h2.4v2.4h-2.4zM53.73 258.33h2.4v2.4h-2.4zM54.19 258.79h2.4v2.4h-2.4zM54.64 259.24h2.4v2.4h-2.4zM55.1 259.7h2.4v2.4h-2.4zM55.9 260.2h2.4v2.4h-2.4zM56.7 260.7h2.4v2.4h-2.4zM57.5 261.2h2.4v2.4h-2.4zM58.3 261.7h2.4v2.4h-2.4zM61.4 262.5h2.4v2.4h-2.4zM64.6 263.2h2.4v2.4h-2.4zM67.8 263.8h2.4v2.4h-2.4zM72.3 264.4h2.4v2.4h-2.4zM76.7 265.1h2.4v2.4h-2.4zM81.8 265.7h2.4v2.4h-2.4zM87.1 266.3h2.4v2.4h-2.4zM93 267h2.4v2.4h-2.4zM98.6 267.9h2.4v2.4h-2.4zM104.1 268.5h2.4v2.4h-2.4zM107.9 269.1h2.4v2.4h-2.4zM109.8 269.9h2.4v2.4h-2.4zM108.55 270.5h2.4v2.4h-2.4zM107.3 271.1h2.4v2.4h-2.4zM104.7 271.8h2.4v2.4h-2.4zM101.5 272.7h2.4v2.4h-2.4zM100.3 273.6h2.4v2.4h-2.4zM104.7 274.6h2.4v2.4h-2.4zM109.2 275.5h2.4v2.4h-2.4zM113 276.1h2.4v2.4h-2.4zM116.2 276.9h2.4v2.4h-2.4zM116.2 277.55h2.4v2.4h-2.4zM116.2 278.2h2.4v2.4h-2.4zM114.9 278.85h2.4v2.4h-2.4zM113.6 279.5h2.4v2.4h-2.4zM111.7 280.3h2.4v2.4h-2.4zM116.2 280.7h2.4v2.4h-2.4zM121.9 281.4h2.4v2.4h-2.4zM132.6 282.2h2.4v2.4h-2.4zM147.6 282.9h2.4v2.4h-2.4zM162.7 283.3h2.4v2.4h-2.4zM177 284.1h2.4v2.4h-2.4zM187.9 284.8h2.4v2.4h-2.4zM193.7 285.5h2.4v2.4h-2.4zM196.6 286.3h2.4v2.4h-2.4zM194.05 286.85h2.4v2.4h-2.4zM191.5 287.4h2.4v2.4h-2.4zM185 288h2.4v2.4h-2.4zM175.5 288.7h2.4v2.4h-2.4zM163.6 289.5h2.4v2.4h-2.4zM150.1 290.2h2.4v2.4h-2.4zM138.4 290.8h2.4v2.4h-2.4zM131.6 291.3h2.4v2.4h-2.4zM135.5 292.1h2.4v2.4h-2.4zM140.25 292.65h2.4v2.4h-2.4zM145 293.2h2.4v2.4h-2.4zM149.95 293.75h2.4v2.4h-2.4zM154.9 294.3h2.4v2.4h-2.4zM161 294.7h2.4v2.4h-2.4zM163.3 295.1h2.4v2.4h-2.4zM160.7 295.7h2.4v2.4h-2.4zM154.3 296.3h2.4v2.4h-2.4zM146.7 297.2h2.4v2.4h-2.4zM139.7 297.9h2.4v2.4h-2.4zM134.6 298.6h2.4v2.4h-2.4zM132.5 299.5h2.4v2.4h-2.4zM133.3 300.2h2.4v2.4h-2.4zM136.5 301.2h2.4v2.4h-2.4zM141.6 302.1h2.4v2.4h-2.4zM148 302.7h2.4v2.4h-2.4zM155.4 303.3h2.4v2.4h-2.4zM162.6 303.7h2.4v2.4h-2.4zM169 304.6h2.4v2.4h-2.4zM174.7 305.3h2.4v2.4h-2.4zM179.8 305.9h2.4v2.4h-2.4zM185.1 306.5h2.4v2.4h-2.4zM191.5 307h2.4v2.4h-2.4zM199.5 307.7h2.4v2.4h-2.4zM208.9 308.3h2.4v2.4h-2.4zM219.3 309.2h2.4v2.4h-2.4zM229.3 310h2.4v2.4h-2.4zM237 310.4h2.4v2.4h-2.4zM241.7 311.2h2.4v2.4h-2.4zM240.25 311.8h2.4v2.4h-2.4zM238.8 312.4h2.4v2.4h-2.4zM231.1 313.2h2.4v2.4h-2.4zM221.4 313.8h2.4v2.4h-2.4zM209.6 314.2h2.4v2.4h-2.4zM197 315h2.4v2.4h-2.4zM185.6 315.7h2.4v2.4h-2.4zM175.3 316.7h2.4v2.4h-2.4zM167.7 317.3h2.4v2.4h-2.4zM162 317.7h2.4v2.4h-2.4zM159.2 318.6h2.4v2.4h-2.4zM160.1 319.5h2.4v2.4h-2.4zM163.5 320.3h2.4v2.4h-2.4zM168.3 320.9h2.4v2.4h-2.4zM174.9 321.5h2.4v2.4h-2.4zM182.4 322.4h2.4v2.4h-2.4zM189.7 323h2.4v2.4h-2.4zM195.6 323.6h2.4v2.4h-2.4zM201.1 324.5h2.4v2.4h-2.4zM203.3 325.4h2.4v2.4h-2.4zM200.2 326.3h2.4v2.4h-2.4zM195.6 327.1h2.4v2.4h-2.4zM190.2 327.7h2.4v2.4h-2.4zM185.6 328.4h2.4v2.4h-2.4zM182 329.1h2.4v2.4h-2.4zM180.6 330h2.4v2.4h-2.4zM180.15 330.65h2.4v2.4h-2.4zM179.7 331.3h2.4v2.4h-2.4zM179 332h2.4v2.4h-2.4zM178.3 332.7h2.4v2.4h-2.4zM175.6 333.6h2.4v2.4h-2.4zM172.4 334.5h2.4v2.4h-2.4zM169.3 335.4h2.4v2.4h-2.4zM167.3 335.9h2.4v2.4h-2.4zM165.1 336.5h2.4v2.4h-2.4zM164.05 337.15h2.4v2.4h-2.4zM163 337.8h2.4v2.4h-2.4zM163.2 338.5h2.4v2.4h-2.4zM163.4 339.2h2.4v2.4h-2.4zM163.55 339.85h2.4v2.4h-2.4zM163.7 340.5h2.4v2.4h-2.4zM163.2 341.2h2.4v2.4h-2.4zM162.7 341.9h2.4v2.4h-2.4zM160.7 342.9h2.4v2.4h-2.4zM158.3 343.9h2.4v2.4h-2.4zM155.6 344.6h2.4v2.4h-2.4zM152.6 345.2h2.4v2.4h-2.4zM149.9 345.6h2.4v2.4h-2.4zM147.6 345.9h2.4v2.4h-2.4zM145.2 346.2h2.4v2.4h-2.4zM142.2 346.9h2.4v2.4h-2.4zM139.5 347.9h2.4v2.4h-2.4zM139.58 348.32h2.4v2.4h-2.4zM139.66 348.74h2.4v2.4h-2.4zM139.74 349.16h2.4v2.4h-2.4zM139.82 349.58h2.4v2.4h-2.4zM139.9 350h2.4v2.4h-2.4zM141.04 350.48h2.4v2.4h-2.4zM142.18 350.96h2.4v2.4h-2.4zM143.32 351.44h2.4v2.4h-2.4zM144.46 351.92h2.4v2.4h-2.4zM145.6 352.4h2.4v2.4h-2.4zM145.71 352.87h2.4v2.4h-2.4zM145.83 353.34h2.4v2.4h-2.4zM145.94 353.81h2.4v2.4h-2.4zM146.06 354.29h2.4v2.4h-2.4zM146.17 354.76h2.4v2.4h-2.4zM146.29 355.23h2.4v2.4h-2.4zM146.4 355.7h2.4v2.4h-2.4zM145.94 356.16h2.4v2.4h-2.4zM145.49 356.61h2.4v2.4h-2.4zM145.03 357.07h2.4v2.4h-2.4zM144.58 357.52h2.4v2.4h-2.4zM144.12 357.98h2.4v2.4h-2.4zM143.67 358.43h2.4v2.4h-2.4zM143.21 358.89h2.4v2.4h-2.4zM142.76 359.34h2.4v2.4h-2.4zM142.3 359.8h2.4v2.4h-2.4zM142.43 360.27h2.4v2.4h-2.4zM142.56 360.74h2.4v2.4h-2.4zM142.69 361.21h2.4v2.4h-2.4zM142.81 361.69h2.4v2.4h-2.4zM142.94 362.16h2.4v2.4h-2.4zM143.07 362.63h2.4v2.4h-2.4zM143.2 363.1h2.4v2.4h-2.4zM143.52 363.58h2.4v2.4h-2.4zM143.84 364.06h2.4v2.4h-2.4zM144.16 364.54h2.4v2.4h-2.4zM144.48 365.02h2.4v2.4h-2.4zM144.8 365.5h2.4v2.4h-2.4zM143.5 366h2.4v2.4h-2.4zM142.2 366.5h2.4v2.4h-2.4zM140.9 367h2.4v2.4h-2.4zM139.6 367.5h2.4v2.4h-2.4zM138.3 368h2.4v2.4h-2.4zM137.3 368.48h2.4v2.4h-2.4zM136.3 368.96h2.4v2.4h-2.4zM135.3 369.44h2.4v2.4h-2.4zM134.3 369.92h2.4v2.4h-2.4zM133.3 370.4h2.4v2.4h-2.4zM132.66 370.9h2.4v2.4h-2.4zM132.02 371.4h2.4v2.4h-2.4zM131.38 371.9h2.4v2.4h-2.4zM130.74 372.4h2.4v2.4h-2.4zM130.1 372.9h2.4v2.4h-2.4zM130.4 373.35h2.4v2.4h-2.4zM130.7 373.8h2.4v2.4h-2.4zM132.03 374.4h2.4v2.4h-2.4zM133.37 375h2.4v2.4h-2.4zM134.7 375.6h2.4v2.4h-2.4zM140.5 376.5h2.4v2.4h-2.4zM147.8 377.1h2.4v2.4h-2.4zM158 377.8h2.4v2.4h-2.4zM170.2 378.6h2.4v2.4h-2.4zM182.2 379.4h2.4v2.4h-2.4zM194.7 380.2h2.4v2.4h-2.4zM207.1 380.9h2.4v2.4h-2.4zM219.3 381.6h2.4v2.4h-2.4z"/>
<path d="M459.1 229.1 L481.7 229.7 L498.9 230.3 L509.7 231 L515.5 232 L516.7 232.9 L515.45 233.55 L514.2 234.2 L507.2 234.8 L496.4 235.4 L483 236.1 L468.4 236.7 L455.6 237.5 L448.5 237.9 L444.6 238.4 L447.7 239 L456.2 239.6 L468.6 240.5 L481.8 241.3 L495.7 242 L506.5 242.6 L514.7 243.5 L519 244.4 L515.7 245.4 L511.1 246.1 L506.5 246.9 L499.5 247.4 L491 248.1 L481 248.8 L470.9 249.5 L459.4 250.1 L448.8 250.8 L439.4 251.5 L430.1 252 L421.8 252.6 L413.9 253.4 L406.9 253.9 L400.4 254.7 L394.5 255.3 L388.6 255.8 L383.8 256.7 L379.1 257.3 L374 258 L368.5 258.4 L362.8 259 L356.6 259.9 L350.5 260.5 L344.7 261.2 L339.3 261.8 L335.2 262.2 L332 262.8 L330.75 263.45 L329.5 264.1 L329.5 264.54 L329.5 264.98 L329.5 265.42 L329.5 265.86 L329.5 266.3 L329.9 266.76 L330.3 267.21 L330.7 267.67 L331.1 268.13 L331.5 268.59 L331.9 269.04 L332.3 269.5 L333.11 269.97 L333.93 270.44 L334.74 270.91 L335.56 271.39 L336.37 271.86 L337.19 272.33 L338 272.8 L339.62 273.23 L341.25 273.65 L342.88 274.07 L344.5 274.5 L346.15 274.82 L347.8 275.15 L349.45 275.48 L351.1 275.8 L352.12 276.27 L353.15 276.75 L354.18 277.23 L355.2 277.7 L355.66 278.16 L356.11 278.61 L356.57 279.07 L357.02 279.52 L357.48 279.98 L357.93 280.43 L358.39 280.89 L358.84 281.34 L359.3 281.8 L359.62 282.3 L359.94 282.8 L360.26 283.3 L360.58 283.8 L360.9 284.3 L360.56 284.76 L360.21 285.21 L359.87 285.67 L359.53 286.13 L359.19 286.59 L358.84 287.04 L358.5 287.5 L359.3 288 L360.1 288.5 L360.9 289 L361.7 289.5 L362.5 290 L363.5 290.5 L364.5 291 L365.5 291.5 L366.5 292 L367.5 292.5 L367.26 292.96 L367.01 293.41 L366.77 293.87 L366.53 294.33 L366.29 294.79 L366.04 295.24 L365.8 295.7 L366.46 296.2 L367.12 296.7 L367.78 297.2 L368.44 297.7 L369.1 298.2 L370.08 298.68 L371.06 299.16 L372.04 299.64 L373.02 300.12 L374 300.6 L374.49 301.09 L374.98 301.58 L375.47 302.07 L375.96 302.56 L376.45 303.05 L376.94 303.54 L377.43 304.03 L377.92 304.52 L378.41 305.01 L378.9 305.5 L379.39 305.98 L379.88 306.46 L380.37 306.94 L380.86 307.42 L381.35 307.9 L381.84 308.38 L382.33 308.86 L382.82 309.34 L383.31 309.82 L383.8 310.3 L385.07 310.87 L386.33 311.43 L387.6 312 L389.85 312.65 L392.1 313.3 L395.9 314.2 L399.3 314.8 L403.2 315.4 L407 316.2 L410.8 316.8 L414.6 317.5 L418.2 318.1 L422 318.7 L425.6 319.4 L429 320 L432.2 320.9 L435.4 321.5 L436.65 322.15 L437.9 322.8 L438.53 323.43 L439.17 324.07 L439.8 324.7 L442.4 325.6 L445.7 326.6 L449.8 327.5 L453.9 328.1 L458 328.8 L461.4 329.8 L462.75 330.35 L464.1 330.9 L465 331.47 L465.9 332.03 L466.8 332.6 L469.5 333.6 L472.3 334.5 L475.7 335.2 L479.8 335.6 L483.9 336.3 L488.4 337 L492.7 337.7 L498.2 338.4 L503 339 L507.7 339.7 L511.8 340.4 L515.2 341.3 L515.9 342.3 L514.7 343.3 L513.7 343.97 L512.7 344.63 L511.7 345.3 L510.25 345.9 L508.8 346.5 L505.2 347.2 L501.1 347.8 L496.4 348.4 L491.4 349.2 L486.9 349.8 L484.6 350.8 L484.2 351.27 L483.8 351.73 L483.4 352.2 L482.95 352.65 L482.5 353.1 L482.05 353.55 L481.6 354 L480.8 354.5 L480 355 L479.2 355.5 L478.43 355.9 L477.67 356.3 L476.9 356.7 L475.4 357.4 L473.9 358.1 L469.8 358.9 L464.2 359.5 L457.4 360 L450.3 360.7 L442.9 361.3 L437 362.1 L435.3 362.37 L433.6 362.63 L431.9 362.9 L430.63 363.13 L429.37 363.37 L428.1 363.6 L426.8 363.9 L425.5 364.2 L424.45 364.6 L423.4 365 L422.5 365.3 L421.6 365.6 L419.2 366.5 L414.5 367.1 L409.2 367.6 L402.3 368.4 L395.6 369.1 L387.5 369.8 L380.2 370.5 L374.5 371.2 L369.5 371.8 L365.3 372.7 L361.5 373.5 L358.5 374 L357.25 374.25 L356 374.5 L355 375 L354 375.5 L353.83 376 L353.67 376.5 L353.5 377 L353.5 377.5 L353.5 378 L353.5 378.5 L353.5 379 L353.43 379.5 L353.35 380 L353.27 380.5 L353.2 381 L353.1 381.5 L353 382 L352.9 382.5 L352.8 383" fill="none" stroke="#555" stroke-width="0.7"/>
<path fill="#000" d="M457.9 227.9h2.4v2.4h-2.4zM480.5 228.5h2.4v2.4h-2.4zM497.7 229.1h2.4v2.4h-2.4zM508.5 229.8h2.4v2.4h-2.4zM514.3 230.8h2.4v2.4h-2.4zM515.5 231.7h2.4v2.4h-2.4zM514.25 232.35h2.4v2.4h-2.4zM513 233h2.4v2.4h-2.4zM506 233.6h2.4v2.4h-2.4zM495.2 234.2h2.4v2.4h-2.4zM481.8 234.9h2.4v2.4h-2.4zM467.2 235.5h2.4v2.4h-2.4zM454.4 236.3h2.4v2.4h-2.4zM447.3 236.7h2.4v2.4h-2.4zM443.4 237.2h2.4v2.4h-2.4zM446.5 237.8h2.4v2.4h-2.4zM455 238.4h2.4v2.4h-2.4zM467.4 239.3h2.4v2.4h-2.4zM480.6 240.1h2.4v2.4h-2.4zM494.5 240.8h2.4v2.4h-2.4zM505.3 241.4h2.4v2.4h-2.4zM513.5 242.3h2.4v2.4h-2.4zM517.8 243.2h2.4v2.4h-2.4zM514.5 244.2h2.4v2.4h-2.4zM509.9 244.9h2.4v2.4h-2.4zM505.3 245.7h2.4v2.4h-2.4zM498.3 246.2h2.4v2.4h-2.4zM489.8 246.9h2.4v2.4h-2.4zM479.8 247.6h2.4v2.4h-2.4zM469.7 248.3h2.4v2.4h-2.4zM458.2 248.9h2.4v2.4h-2.4zM447.6 249.6h2.4v2.4h-2.4zM438.2 250.3h2.4v2.4h-2.4zM428.9 250.8h2.4v2.4h-2.4zM420.6 251.4h2.4v2.4h-2.4zM412.7 252.2h2.4v2.4h-2.4zM405.7 252.7h2.4v2.4h-2.4zM399.2 253.5h2.4v2.4h-2.4zM393.3 254.1h2.4v2.4h-2.4zM387.4 254.6h2.4v2.4h-2.4zM382.6 255.5h2.4v2.4h-2.4zM377.9 256.1h2.4v2.4h-2.4zM372.8 256.8h2.4v2.4h-2.4zM367.3 257.2h2.4v2.4h-2.4zM361.6 257.8h2.4v2.4h-2.4zM355.4 258.7h2.4v2.4h-2.4zM349.3 259.3h2.4v2.4h-2.4zM343.5 260h2.4v2.4h-2.4zM338.1 260.6h2.4v2.4h-2.4zM334 261h2.4v2.4h-2.4zM330.8 261.6h2.4v2.4h-2.4zM329.55 262.25h2.4v2.4h-2.4zM328.3 262.9h2.4v2.4h-2.4zM328.3 263.34h2.4v2.4h-2.4zM328.3 263.78h2.4v2.4h-2.4zM328.3 264.22h2.4v2.4h-2.4zM328.3 264.66h2.4v2.4h-2.4zM328.3 265.1h2.4v2.4h-2.4zM328.7 265.56h2.4v2.4h-2.4zM329.1 266.01h2.4v2.4h-2.4zM329.5 266.47h2.4v2.4h-2.4zM329.9 266.93h2.4v2.4h-2.4zM330.3 267.39h2.4v2.4h-2.4zM330.7 267.84h2.4v2.4h-2.4zM331.1 268.3h2.4v2.4h-2.4zM331.91 268.77h2.4v2.4h-2.4zM332.73 269.24h2.4v2.4h-2.4zM333.54 269.71h2.4v2.4h-2.4zM334.36 270.19h2.4v2.4h-2.4zM335.17 270.66h2.4v2.4h-2.4zM335.99 271.13h2.4v2.4h-2.4zM336.8 271.6h2.4v2.4h-2.4zM338.43 272.03h2.4v2.4h-2.4zM340.05 272.45h2.4v2.4h-2.4zM341.68 272.88h2.4v2.4h-2.4zM343.3 273.3h2.4v2.4h-2.4zM344.95 273.62h2.4v2.4h-2.4zM346.6 273.95h2.4v2.4h-2.4zM348.25 274.28h2.4v2.4h-2.4zM349.9 274.6h2.4v2.4h-2.4zM350.93 275.07h2.4v2.4h-2.4zM351.95 275.55h2.4v2.4h-2.4zM352.98 276.03h2.4v2.4h-2.4zM354 276.5h2.4v2.4h-2.4zM354.46 276.96h2.4v2.4h-2.4zM354.91 277.41h2.4v2.4h-2.4zM355.37 277.87h2.4v2.4h-2.4zM355.82 278.32h2.4v2.4h-2.4zM356.28 278.78h2.4v2.4h-2.4zM356.73 279.23h2.4v2.4h-2.4zM357.19 279.69h2.4v2.4h-2.4zM357.64 280.14h2.4v2.4h-2.4zM358.1 280.6h2.4v2.4h-2.4zM358.42 281.1h2.4v2.4h-2.4zM358.74 281.6h2.4v2.4h-2.4zM359.06 282.1h2.4v2.4h-2.4zM359.38 282.6h2.4v2.4h-2.4zM359.7 283.1h2.4v2.4h-2.4zM359.36 283.56h2.4v2.4h-2.4zM359.01 284.01h2.4v2.4h-2.4zM358.67 284.47h2.4v2.4h-2.4zM358.33 284.93h2.4v2.4h-2.4zM357.99 285.39h2.4v2.4h-2.4zM357.64 285.84h2.4v2.4h-2.4zM357.3 286.3h2.4v2.4h-2.4zM358.1 286.8h2.4v2.4h-2.4zM358.9 287.3h2.4v2.4h-2.4zM359.7 287.8h2.4v2.4h-2.4zM360.5 288.3h2.4v2.4h-2.4zM361.3 288.8h2.4v2.4h-2.4zM362.3 289.3h2.4v2.4h-2.4zM363.3 289.8h2.4v2.4h-2.4zM364.3 290.3h2.4v2.4h-2.4zM365.3 290.8h2.4v2.4h-2.4zM366.3 291.3h2.4v2.4h-2.4zM366.06 291.76h2.4v2.4h-2.4zM365.81 292.21h2.4v2.4h-2.4zM365.57 292.67h2.4v2.4h-2.4zM365.33 293.13h2.4v2.4h-2.4zM365.09 293.59h2.4v2.4h-2.4zM364.84 294.04h2.4v2.4h-2.4zM364.6 294.5h2.4v2.4h-2.4zM365.26 295h2.4v2.4h-2.4zM365.92 295.5h2.4v2.4h-2.4zM366.58 296h2.4v2.4h-2.4zM367.24 296.5h2.4v2.4h-2.4zM367.9 297h2.4v2.4h-2.4zM368.88 297.48h2.4v2.4h-2.4zM369.86 297.96h2.4v2.4h-2.4zM370.84 298.44h2.4v2.4h-2.4zM371.82 298.92h2.4v2.4h-2.4zM372.8 299.4h2.4v2.4h-2.4zM373.29 299.89h2.4v2.4h-2.4zM373.78 300.38h2.4v2.4h-2.4zM374.27 300.87h2.4v2.4h-2.4zM374.76 301.36h2.4v2.4h-2.4zM375.25 301.85h2.4v2.4h-2.4zM375.74 302.34h2.4v2.4h-2.4zM376.23 302.83h2.4v2.4h-2.4zM376.72 303.32h2.4v2.4h-2.4zM377.21 303.81h2.4v2.4h-2.4zM377.7 304.3h2.4v2.4h-2.4zM378.19 304.78h2.4v2.4h-2.4zM378.68 305.26h2.4v2.4h-2.4zM379.17 305.74h2.4v2.4h-2.4zM379.66 306.22h2.4v2.4h-2.4zM380.15 306.7h2.4v2.4h-2.4zM380.64 307.18h2.4v2.4h-2.4zM381.13 307.66h2.4v2.4h-2.4zM381.62 308.14h2.4v2.4h-2.4zM382.11 308.62h2.4v2.4h-2.4zM382.6 309.1h2.4v2.4h-2.4zM383.87 309.67h2.4v2.4h-2.4zM385.13 310.23h2.4v2.4h-2.4zM386.4 310.8h2.4v2.4h-2.4zM388.65 311.45h2.4v2.4h-2.4zM390.9 312.1h2.4v2.4h-2.4zM394.7 313h2.4v2.4h-2.4zM398.1 313.6h2.4v2.4h-2.4zM402 314.2h2.4v2.4h-2.4zM405.8 315h2.4v2.4h-2.4zM409.6 315.6h2.4v2.4h-2.4zM413.4 316.3h2.4v2.4h-2.4zM417 316.9h2.4v2.4h-2.4zM420.8 317.5h2.4v2.4h-2.4zM424.4 318.2h2.4v2.4h-2.4zM427.8 318.8h2.4v2.4h-2.4zM431 319.7h2.4v2.4h-2.4zM434.2 320.3h2.4v2.4h-2.4zM435.45 320.95h2.4v2.4h-2.4zM436.7 321.6h2.4v2.4h-2.4zM437.33 322.23h2.4v2.4h-2.4zM437.97 322.87h2.4v2.4h-2.4zM438.6 323.5h2.4v2.4h-2.4zM441.2 324.4h2.4v2.4h-2.4zM444.5 325.4h2.4v2.4h-2.4zM448.6 326.3h2.4v2.4h-2.4zM452.7 326.9h2.4v2.4h-2.4zM456.8 327.6h2.4v2.4h-2.4zM460.2 328.6h2.4v2.4h-2.4zM461.55 329.15h2.4v2.4h-2.4zM462.9 329.7h2.4v2.4h-2.4zM463.8 330.27h2.4v2.4h-2.4zM464.7 330.83h2.4v2.4h-2.4zM465.6 331.4h2.4v2.4h-2.4zM468.3 332.4h2.4v2.4h-2.4zM471.1 333.3h2.4v2.4h-2.4zM474.5 334h2.4v2.4h-2.4zM478.6 334.4h2.4v2.4h-2.4zM482.7 335.1h2.4v2.4h-2.4zM487.2 335.8h2.4v2.4h-2.4zM491.5 336.5h2.4v2.4h-2.4zM497 337.2h2.4v2.4h-2.4zM501.8 337.8h2.4v2.4h-2.4zM506.5 338.5h2.4v2.4h-2.4zM510.6 339.2h2.4v2.4h-2.4zM514 340.1h2.4v2.4h-2.4zM514.7 341.1h2.4v2.4h-2.4zM513.5 342.1h2.4v2.4h-2.4zM512.5 342.77h2.4v2.4h-2.4zM511.5 343.43h2.4v2.4h-2.4zM510.5 344.1h2.4v2.4h-2.4zM509.05 344.7h2.4v2.4h-2.4zM507.6 345.3h2.4v2.4h-2.4zM504 346h2.4v2.4h-2.4zM499.9 346.6h2.4v2.4h-2.4zM495.2 347.2h2.4v2.4h-2.4zM490.2 348h2.4v2.4h-2.4zM485.7 348.6h2.4v2.4h-2.4zM483.4 349.6h2.4v2.4h-2.4zM483 350.07h2.4v2.4h-2.4zM482.6 350.53h2.4v2.4h-2.4zM482.2 351h2.4v2.4h-2.4zM481.75 351.45h2.4v2.4h-2.4zM481.3 351.9h2.4v2.4h-2.4zM480.85 352.35h2.4v2.4h-2.4zM480.4 352.8h2.4v2.4h-2.4zM479.6 353.3h2.4v2.4h-2.4zM478.8 353.8h2.4v2.4h-2.4zM478 354.3h2.4v2.4h-2.4zM477.23 354.7h2.4v2.4h-2.4zM476.47 355.1h2.4v2.4h-2.4zM475.7 355.5h2.4v2.4h-2.4zM474.2 356.2h2.4v2.4h-2.4zM472.7 356.9h2.4v2.4h-2.4zM468.6 357.7h2.4v2.4h-2.4zM463 358.3h2.4v2.4h-2.4zM456.2 358.8h2.4v2.4h-2.4zM449.1 359.5h2.4v2.4h-2.4zM441.7 360.1h2.4v2.4h-2.4zM435.8 360.9h2.4v2.4h-2.4zM434.1 361.17h2.4v2.4h-2.4zM432.4 361.43h2.4v2.4h-2.4zM430.7 361.7h2.4v2.4h-2.4zM429.43 361.93h2.4v2.4h-2.4zM428.17 362.17h2.4v2.4h-2.4zM426.9 362.4h2.4v2.4h-2.4zM425.6 362.7h2.4v2.4h-2.4zM424.3 363h2.4v2.4h-2.4zM423.25 363.4h2.4v2.4h-2.4zM422.2 363.8h2.4v2.4h-2.4zM421.3 364.1h2.4v2.4h-2.4zM420.4 364.4h2.4v2.4h-2.4zM418 365.3h2.4v2.4h-2.4zM413.3 365.9h2.4v2.4h-2.4zM408 366.4h2.4v2.4h-2.4zM401.1 367.2h2.4v2.4h-2.4zM394.4 367.9h2.4v2.4h-2.4zM386.3 368.6h2.4v2.4h-2.4zM379 369.3h2.4v2.4h-2.4zM373.3 370h2.4v2.4h-2.4zM368.3 370.6h2.4v2.4h-2.4zM364.1 371.5h2.4v2.4h-2.4zM360.3 372.3h2.4v2.4h-2.4zM357.3 372.8h2.4v2.4h-2.4zM356.05 373.05h2.4v2.4h-2.4zM354.8 373.3h2.4v2.4h-2.4zM353.8 373.8h2.4v2.4h-2.4zM352.8 374.3h2.4v2.4h-2.4zM352.63 374.8h2.4v2.4h-2.4zM352.47 375.3h2.4v2.4h-2.4zM352.3 375.8h2.4v2.4h-2.4zM352.3 376.3h2.4v2.4h-2.4zM352.3 376.8h2.4v2.4h-2.4zM352.3 377.3h2.4v2.4h-2.4zM352.3 377.8h2.4v2.4h-2.4zM352.23 378.3h2.4v2.4h-2.4zM352.15 378.8h2.4v2.4h-2.4zM352.07 379.3h2.4v2.4h-2.4zM352 379.8h2.4v2.4h-2.4zM351.9 380.3h2.4v2.4h-2.4zM351.8 380.8h2.4v2.4h-2.4zM351.7 381.3h2.4v2.4h-2.4zM351.6 381.8h2.4v2.4h-2.4z"/>
<path d="M32 187.6V184M50.93 187.6V184M69.87 187.6V184M88.8 187.6V184M107.73 187.6V184M126.67 187.6V184M145.6 187.6V184M164.53 187.6V184M183.47 187.6V184M202.4 187.6V184M221.33 187.6V184M240.27 187.6V184M259.2 187.6V184M32 187.6H35.6M32 170.25H35.6M32 152.9H35.6M32 135.54H35.6M32 118.19H35.6M32 100.84H35.6M32 83.49H35.6M32 66.13H35.6M32 48.78H35.6M32 31.43H35.6M32 14.08H35.6" stroke="#000" stroke-width="1.5" fill="none"/>
<rect x="32" y="5.4" width="227.2" height="182.2" fill="none" stroke="#000" stroke-width="1.6"/>
<path d="M324.16 187.6V184M348.31 187.6V184M372.46 187.6V184M396.61 187.6V184M420.76 187.6V184M444.9 187.6V184M469.05 187.6V184M493.2 187.6V184M517.35 187.6V184M541.5 187.6V184M314.5 187.6H318.1M314.5 170.25H318.1M314.5 152.9H318.1M314.5 135.54H318.1M314.5 118.19H318.1M314.5 100.84H318.1M314.5 83.49H318.1M314.5 66.13H318.1M314.5 48.78H318.1M314.5 31.43H318.1M314.5 14.08H318.1" stroke="#000" stroke-width="1.5" fill="none"/>
<rect x="314.5" y="5.4" width="227" height="182.2" fill="none" stroke="#000" stroke-width="1.6"/>
<path d="M42.87 403.2V399.6M62.62 403.2V399.6M82.37 403.2V399.6M102.12 403.2V399.6M121.87 403.2V399.6M141.61 403.2V399.6M161.36 403.2V399.6M181.11 403.2V399.6M200.86 403.2V399.6M220.6 403.2V399.6M240.35 403.2V399.6M260.1 403.2V399.6M33 403.2H36.6M33 385.73H36.6M33 368.27H36.6M33 350.8H36.6M33 333.33H36.6M33 315.87H36.6M33 298.4H36.6M33 280.93H36.6M33 263.47H36.6M33 246H36.6M33 228.53H36.6" stroke="#000" stroke-width="1.5" fill="none"/>
<rect x="33" y="219.8" width="227.1" height="183.4" fill="none" stroke="#000" stroke-width="1.6"/>
<path d="M328.64 403.2V399.6M352.51 403.2V399.6M376.38 403.2V399.6M400.26 403.2V399.6M424.13 403.2V399.6M448.01 403.2V399.6M471.88 403.2V399.6M495.75 403.2V399.6M519.63 403.2V399.6M543.5 403.2V399.6M316.7 403.2H320.3M316.7 385.73H320.3M316.7 368.27H320.3M316.7 350.8H320.3M316.7 333.33H320.3M316.7 315.87H320.3M316.7 298.4H320.3M316.7 280.93H320.3M316.7 263.47H320.3M316.7 246H320.3M316.7 228.53H320.3" stroke="#000" stroke-width="1.5" fill="none"/>
<rect x="316.7" y="219.8" width="226.8" height="183.4" fill="none" stroke="#000" stroke-width="1.6"/>
<g font-size="8.7" font-weight="bold">
<text x="32" y="198.5" text-anchor="middle">150</text>
<text x="50.93" y="198.5" text-anchor="middle">160</text>
<text x="69.87" y="198.5" text-anchor="middle">170</text>
<text x="88.8" y="198.5" text-anchor="middle">180</text>
<text x="107.73" y="198.5" text-anchor="middle">190</text>
<text x="126.67" y="198.5" text-anchor="middle">200</text>
<text x="145.6" y="198.5" text-anchor="middle">210</text>
<text x="164.53" y="198.5" text-anchor="middle">220</text>
<text x="183.47" y="198.5" text-anchor="middle">230</text>
<text x="202.4" y="198.5" text-anchor="middle">240</text>
<text x="221.33" y="198.5" text-anchor="middle">250</text>
<text x="240.27" y="198.5" text-anchor="middle">260</text>
<text x="259.2" y="198.5" text-anchor="middle">270</text>
<text x="28.5" y="190.75" text-anchor="end">0</text>
<text x="28.5" y="173.4" text-anchor="end">10</text>
<text x="28.5" y="156.05" text-anchor="end">20</text>
<text x="28.5" y="138.69" text-anchor="end">30</text>
<text x="28.5" y="121.34" text-anchor="end">40</text>
<text x="28.5" y="103.99" text-anchor="end">50</text>
<text x="28.5" y="86.64" text-anchor="end">60</text>
<text x="28.5" y="69.28" text-anchor="end">70</text>
<text x="28.5" y="51.93" text-anchor="end">80</text>
<text x="28.5" y="34.58" text-anchor="end">90</text>
<text x="28.5" y="17.23" text-anchor="end">100</text>
<text x="324.16" y="198.5" text-anchor="middle">0</text>
<text x="348.31" y="198.5" text-anchor="middle">25</text>
<text x="372.46" y="198.5" text-anchor="middle">50</text>
<text x="396.61" y="198.5" text-anchor="middle">75</text>
<text x="420.76" y="198.5" text-anchor="middle">100</text>
<text x="444.9" y="198.5" text-anchor="middle">125</text>
<text x="469.05" y="198.5" text-anchor="middle">150</text>
<text x="493.2" y="198.5" text-anchor="middle">175</text>
<text x="517.35" y="198.5" text-anchor="middle">200</text>
<text x="541.5" y="198.5" text-anchor="middle">225</text>
<text x="310.3" y="190.75" text-anchor="end">0</text>
<text x="310.3" y="173.4" text-anchor="end">10</text>
<text x="310.3" y="156.05" text-anchor="end">20</text>
<text x="310.3" y="138.69" text-anchor="end">30</text>
<text x="310.3" y="121.34" text-anchor="end">40</text>
<text x="310.3" y="103.99" text-anchor="end">50</text>
<text x="310.3" y="86.64" text-anchor="end">60</text>
<text x="310.3" y="69.28" text-anchor="end">70</text>
<text x="310.3" y="51.93" text-anchor="end">80</text>
<text x="310.3" y="34.58" text-anchor="end">90</text>
<text x="310.3" y="17.23" text-anchor="end">100</text>
<text x="42.87" y="413.7" text-anchor="middle">0</text>
<text x="62.62" y="413.7" text-anchor="middle">1</text>
<text x="82.37" y="413.7" text-anchor="middle">2</text>
<text x="102.12" y="413.7" text-anchor="middle">3</text>
<text x="121.87" y="413.7" text-anchor="middle">4</text>
<text x="141.61" y="413.7" text-anchor="middle">5</text>
<text x="161.36" y="413.7" text-anchor="middle">6</text>
<text x="181.11" y="413.7" text-anchor="middle">7</text>
<text x="200.86" y="413.7" text-anchor="middle">8</text>
<text x="220.6" y="413.7" text-anchor="middle">9</text>
<text x="240.35" y="413.7" text-anchor="middle">10</text>
<text x="260.1" y="413.7" text-anchor="middle">11</text>
<text x="28.9" y="406.35" text-anchor="end">0</text>
<text x="28.9" y="388.88" text-anchor="end">10</text>
<text x="28.9" y="371.42" text-anchor="end">20</text>
<text x="28.9" y="353.95" text-anchor="end">30</text>
<text x="28.9" y="336.48" text-anchor="end">40</text>
<text x="28.9" y="319.02" text-anchor="end">50</text>
<text x="28.9" y="301.55" text-anchor="end">60</text>
<text x="28.9" y="284.08" text-anchor="end">70</text>
<text x="28.9" y="266.62" text-anchor="end">80</text>
<text x="28.9" y="249.15" text-anchor="end">90</text>
<text x="28.9" y="231.68" text-anchor="end">100</text>
<text x="328.64" y="413.7" text-anchor="middle">0</text>
<text x="352.51" y="413.7" text-anchor="middle">1</text>
<text x="376.38" y="413.7" text-anchor="middle">2</text>
<text x="400.26" y="413.7" text-anchor="middle">3</text>
<text x="424.13" y="413.7" text-anchor="middle">4</text>
<text x="448.01" y="413.7" text-anchor="middle">5</text>
<text x="471.88" y="413.7" text-anchor="middle">6</text>
<text x="495.75" y="413.7" text-anchor="middle">7</text>
<text x="519.63" y="413.7" text-anchor="middle">8</text>
<text x="543.5" y="413.7" text-anchor="middle">9</text>
<text x="312.4" y="406.35" text-anchor="end">0</text>
<text x="312.4" y="388.88" text-anchor="end">10</text>
<text x="312.4" y="371.42" text-anchor="end">20</text>
<text x="312.4" y="353.95" text-anchor="end">30</text>
<text x="312.4" y="336.48" text-anchor="end">40</text>
<text x="312.4" y="319.02" text-anchor="end">50</text>
<text x="312.4" y="301.55" text-anchor="end">60</text>
<text x="312.4" y="284.08" text-anchor="end">70</text>
<text x="312.4" y="266.62" text-anchor="end">80</text>
<text x="312.4" y="249.15" text-anchor="end">90</text>
<text x="312.4" y="231.68" text-anchor="end">100</text>
</g>
<g font-size="11.2" font-weight="bold"><text x="145.6" y="215.2" text-anchor="middle">Temperature (K)</text><text x="428" y="215.2" text-anchor="middle">Pressure (mbar)</text><text x="146.55" y="431.2" text-anchor="middle">H<tspan font-size="7.6" dy="3">2</tspan><tspan dy="-3">O (ppmv)</tspan></text><text x="430.1" y="431.2" text-anchor="middle">O<tspan font-size="7.6" dy="3">3</tspan><tspan dy="-3"> (ppmv)</tspan></text><text transform="translate(11.2 96.5) rotate(-90)" text-anchor="middle">Altitude (km)</text><text transform="translate(292.9 96.5) rotate(-90)" text-anchor="middle">Altitude (km)</text><text transform="translate(12.0 311.5) rotate(-90)" text-anchor="middle">Altitude (km)</text><text transform="translate(295.5 311.5) rotate(-90)" text-anchor="middle">Altitude (km)</text></g>
<g font-size="15.6" font-weight="bold"><text x="239.4" y="156.8" text-anchor="middle">(a)</text><text x="519" y="157.1" text-anchor="middle">(b)</text><text x="241.9" y="374.6" text-anchor="middle">(c)</text><text x="519.2" y="376.5" text-anchor="middle">(d)</text></g>
<rect x="162.6" y="13.6" width="90.4" height="14.9" fill="#fff" stroke="#707070" stroke-width="0.9"/><path d="M164 21.5H183" stroke="#333" stroke-width="0.9"/><circle cx="173.5" cy="21.5" r="1.4"/><text x="188.4" y="24.7" font-size="11.3" font-weight="bold">Temperature</text>
<rect x="442.3" y="22.4" width="68.2" height="15" fill="#fff" stroke="#707070" stroke-width="0.9"/><path d="M444.4 30.5H462.7" stroke="#333" stroke-width="0.9"/><circle cx="453.55" cy="30.5" r="1.4"/><text x="468.2" y="33.7" font-size="11.0" font-weight="bold">Pressure</text>
<rect x="168.8" y="231" width="48.3" height="17.3" fill="#fff" stroke="#707070" stroke-width="0.9"/><path d="M170.5 239.5H189.3" stroke="#333" stroke-width="0.9"/><circle cx="179.9" cy="239.5" r="1.4"/><text x="194.5" y="242.7" font-size="11.3" font-weight="bold">H<tspan font-size="7.8" dy="3.2">2</tspan><tspan dy="-3.2">O</tspan></text>
<rect x="334.1" y="232.3" width="39.4" height="18.2" fill="#fff" stroke="#707070" stroke-width="0.9"/><path d="M336 240.5H354.6" stroke="#333" stroke-width="0.9"/><circle cx="345.3" cy="240.5" r="1.4"/><text x="359.6" y="243.7" font-size="11.3" font-weight="bold">O<tspan font-size="7.8" dy="3.2">3</tspan></text>
</svg>
</body></html>
